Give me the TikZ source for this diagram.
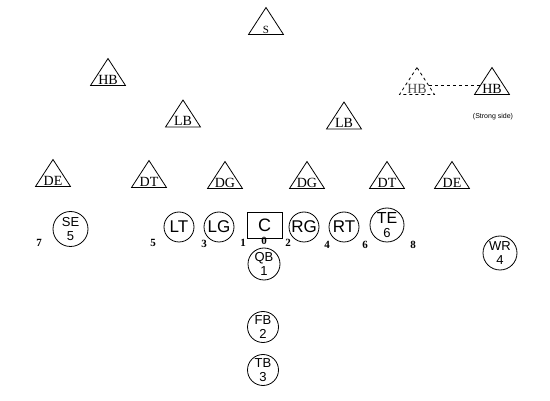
\documentclass[tikz,border=0pt]{standalone}
\usepackage{fontspec}
\setmainfont{Liberation Serif}
\setsansfont{Liberation Sans}
\usetikzlibrary{shapes.geometric}

\begin{document}
\begin{tikzpicture}[
  x=1pt, y=-1pt,
  defender/.style={
    isosceles triangle,
    isosceles triangle stretches,
    shape border rotate=90,
    draw=black,
    line width=0.8pt,
    minimum width=35pt,
    minimum height=27pt,
    inner sep=0pt
  },
  tag/.style={
    anchor=south,
    inner sep=0pt,
    yshift=1.5pt,
    font=\fontsize{14}{14}\selectfont
  },
  player/.style={
    circle,
    draw=black,
    line width=0.8pt,
    minimum size=30pt,
    inner sep=0pt,
    font=\sffamily\fontsize{17}{17}\selectfont
  },
  back/.style={
    player,
    minimum size=32pt,
    align=center,
    font=\sffamily\fontsize{13}{13.5}\selectfont
  },
  snapbox/.style={
    rectangle,
    draw=black,
    line width=0.8pt,
    minimum width=35pt,
    minimum height=26pt,
    inner sep=0pt,
    font=\sffamily\fontsize{18}{18}\selectfont
  },
  hole/.style={
    inner sep=0pt,
    font=\bfseries\fontsize{11}{11}\selectfont
  }
]
\useasboundingbox (0,0) rectangle (550,401);

% defense
\node[defender, label={[tag, font=\fontsize{11}{11}\selectfont]south:S}] (S) at (266,25) {};

\foreach \name/\x/\y/\txt in {HBw/108/76/HB, LBl/183/117.5/LB, LBr/344/119.5/LB,
    DEl/53/177/DE, DTl/149/178/DT, DGl/225/179/DG, DGr/307/179/DG,
    DTr/387/179/DT, DEr/452/179/DE, HBs/492/85/HB} {
  \node[defender, label={[tag]south:\txt}] (\name) at (\x,\y) {};
}

\node[defender, dashed, label={[tag, text=black!70]south:HB}] (HBd) at (417,85) {};
\draw[dashed, line width=0.8pt] (HBd) -- (HBs);
\node[font=\sffamily\fontsize{7}{7}\selectfont, inner sep=0pt] (strong) at (493,117) {(Strong side)};

% offense
\node[back, minimum size=35pt] (SE) at (70.5,229) {SE\\5};
\node[player] (LT) at (179,227) {LT};
\node[player] (LG) at (219,227) {LG};
\node[snapbox] (C) at (264.5,225) {C};
\node[player] (RG) at (304,227) {RG};
\node[player] (RT) at (344,227) {RT};
\node[back, minimum size=34pt] (TE) at (387,225) {{\fontsize{16}{14}\selectfont TE}\\6};
\node[back, minimum size=34pt] (WR) at (500,253) {WR\\4};
\node[back] (QB) at (264,264) {QB\\1};
\node[back, minimum size=31pt] (FB) at (263,327) {FB\\2};
\node[back, minimum size=31pt] (TB) at (263,370) {TB\\3};

% hole numbers
\foreach \n/\x/\y in {7/39/243, 5/153/243, 3/204/244, 1/243/243, 0/264/241,
    2/288/243, 4/327/245, 6/365/245, 8/413/245} {
  \node[hole] (hole\n) at (\x,\y) {\n};
}
\end{tikzpicture}
\end{document}
